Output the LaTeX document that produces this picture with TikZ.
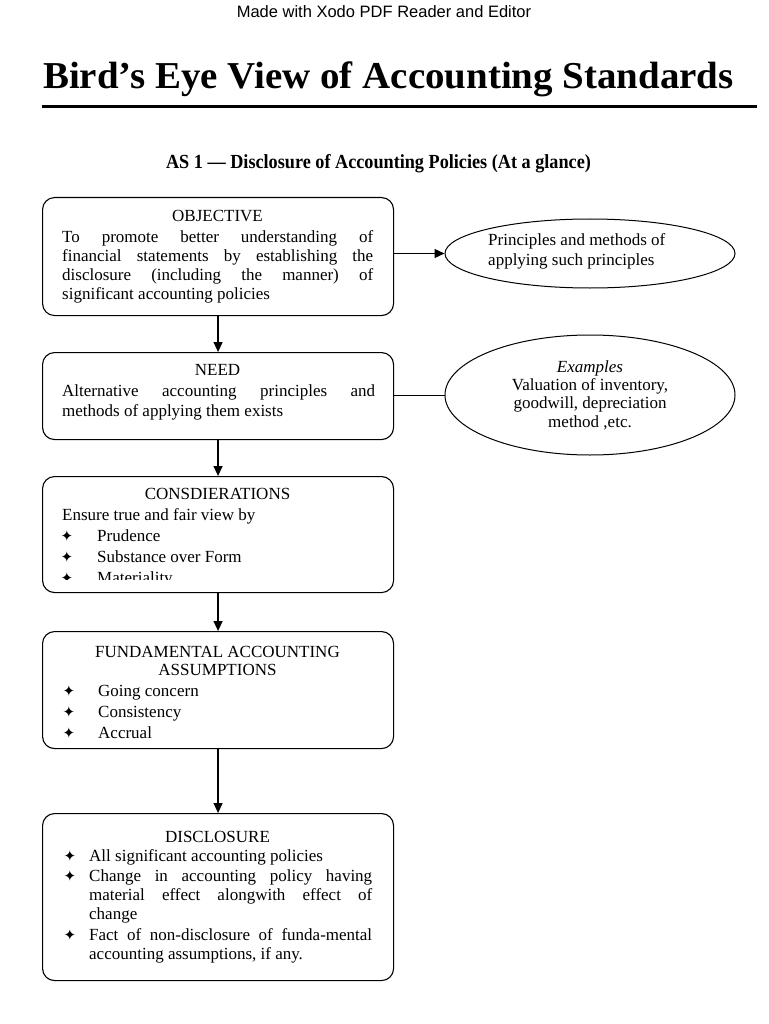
\documentclass[tikz,border=0pt]{standalone}
\usepackage{fontspec}
\setmainfont{Liberation Serif}
\newfontfamily\xsans{Liberation Sans}
\newfontfamily\dejavu{DejaVu Sans}
\usetikzlibrary{shapes.geometric,arrows.meta}
\newcommand\jl[2]{\makebox[#1][s]{#2}}
\begin{document}
\begin{tikzpicture}[x=1pt,y=-1pt,
  box/.style={draw, line width=1.1pt, rounded corners=12pt, minimum width=351pt, inner sep=0pt, anchor=north west},
  oval/.style={draw, ellipse, line width=1pt, inner sep=0pt},
  tx/.style={inner sep=0pt, anchor=base west, font=\fontsize{17}{19}\selectfont},
  txc/.style={tx, anchor=base},
  bl/.style={inner sep=0pt, anchor=base, font=\dejavu\bfseries\fontsize{15}{15}\selectfont},
  arr/.style={-{Triangle[length=10pt,width=9pt]}, line width=1.3pt},
  ln/.style={line width=0.9pt}]
\useasboundingbox (0,0) rectangle (768,1024);

% headings
\node[font=\xsans\fontsize{16.5}{16.5}\selectfont, inner sep=0pt, anchor=base] (xodo) at (384,18) {Made with Xodo PDF Reader and Editor};
\node[font=\fontsize{38}{38}\selectfont\bfseries, inner sep=0pt, anchor=base] (title) at (388.5,89) {\scalebox{1.025}[1]{Bird’s Eye View of Accounting Standards}};
\draw[line width=3pt] (42,107) -- (757,107);
\node[font=\fontsize{20}{20}\selectfont\bfseries, inner sep=0pt, anchor=base] (sub) at (378.5,169) {\scalebox{0.91}[1]{AS 1 — Disclosure of Accounting Policies (At a glance)}};

% boxes
\node[box, minimum height=118pt] (obj) at (42,197) {};
\node[box, minimum height=87pt] (need) at (42,352) {};
\node[box, minimum height=116pt] (cons) at (42,476) {};
\node[box, minimum height=117pt] (fund) at (42,631) {};
\node[box, minimum height=167pt] (disc) at (42,813) {};

% ellipses
\node[oval, minimum width=290pt, minimum height=69pt] (e1) at (590,253.5) {};
\node[oval, minimum width=290pt, minimum height=120pt] (e2) at (590,395) {};

% connectors
\draw[arr] (obj.south) -- (need.north);
\draw[arr] (need.south) -- (cons.north);
\draw[arr] (cons.south) -- (fund.north);
\draw[arr] (fund.south) -- (disc.north);
\draw[arr] (obj.east |- e1.west) -- (e1.west);
\draw[ln] (need.east |- e2.west) -- (e2.west);

% OBJECTIVE
\node[txc] (objh) at (217.5,222) {OBJECTIVE};
\node[tx] (obj1) at (62,242) {\jl{311pt}{To promote better understanding of}};
\node[tx] (obj2) at (62,261) {\jl{311pt}{financial statements by establishing the}};
\node[tx] (obj3) at (62,280) {\jl{311pt}{disclosure (including the manner) of}};
\node[tx] (obj4) at (62,299) {significant accounting policies};

% NEED
\node[txc] (needh) at (217.5,375) {NEED};
\node[tx] (need1) at (62,396) {\jl{313pt}{Alternative accounting principles and}};
\node[tx] (need2) at (62,416) {methods of applying them exists};

% CONSIDERATIONS
\node[txc] (consh) at (217.5,499) {CONSDIERATIONS};
\node[tx] (cons1) at (62,520) {Ensure true and fair view by};
\node[bl] (cb1) at (67,541) {✦};
\node[tx] (cons2) at (97,541) {Prudence};
\node[bl] (cb2) at (67,562) {✦};
\node[tx] (cons3) at (97,562) {Substance over Form};
\begin{scope}
\clip (42,470) rectangle (393,579);
\node[bl] (cb3) at (67,583) {✦};
\node[tx] (cons4) at (97,583) {Materiality};
\end{scope}

% FUNDAMENTAL
\node[txc] (fundh1) at (217.5,657) {FUNDAMENTAL ACCOUNTING};
\node[txc] (fundh2) at (217.5,675) {ASSUMPTIONS};
\node[bl] (fb1) at (69,696) {✦};
\node[tx] (fund1) at (98,696) {Going concern};
\node[bl] (fb2) at (69,717) {✦};
\node[tx] (fund2) at (98,717) {Consistency};
\node[bl] (fb3) at (69,738) {✦};
\node[tx] (fund3) at (98,738) {Accrual};

% DISCLOSURE
\node[txc] (disch) at (217.5,842) {DISCLOSURE};
\node[bl] (db1) at (70,861) {✦};
\node[tx] (disc1) at (89,861) {All significant accounting policies};
\node[bl] (db2) at (70,881) {✦};
\node[tx] (disc2) at (89,881) {\jl{283pt}{Change in accounting policy having}};
\node[tx] (disc3) at (89,900) {\jl{283pt}{material effect alongwith effect of}};
\node[tx] (disc4) at (89,919) {change};
\node[bl] (db3) at (70,940) {✦};
\node[tx] (disc5) at (89,940) {\jl{283pt}{Fact of non-disclosure of funda-mental}};
\node[tx] (disc6) at (89,959) {accounting assumptions, if any.};

% ellipse texts
\node[tx] (e1a) at (488,245) {Principles and methods of};
\node[tx] (e1b) at (488,265) {applying such principles};
\node[txc] (e2a) at (590,372) {\itshape Examples};
\node[txc] (e2b) at (590,390) {Valuation of inventory,};
\node[txc] (e2c) at (590,408) {goodwill, depreciation};
\node[txc] (e2d) at (590,427) {method ,etc.};
\end{tikzpicture}
\end{document}
